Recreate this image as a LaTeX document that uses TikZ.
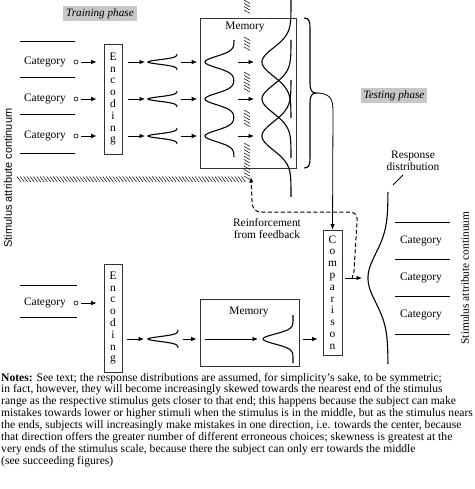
\documentclass[tikz,border=0pt]{standalone}
\usepackage{fontspec}
\setmainfont{Liberation Serif}
\setsansfont{Liberation Sans}
\usetikzlibrary{arrows.meta}
\begin{document}
\begin{tikzpicture}[x=1pt,y=-1pt,
  lbl/.style={font=\fontsize{11.4}{12}\selectfont, inner sep=0pt},
  vbox/.style={draw=black!80, line width=0.7pt, align=center, minimum width=18pt, inner sep=0pt, font=\fontsize{11.4}{11.8}\selectfont},
  membox/.style={draw=black!80, line width=0.7pt, inner sep=0pt},
  arr/.style={-{Latex[length=5.5pt,width=4.5pt]}, line width=0.8pt},
  crv/.style={line width=1.1pt},
  sep/.style={line width=0.8pt},
  phase/.style={fill=black!22, font=\fontsize{11.2}{12}\selectfont\itshape, inner xsep=3pt, minimum height=15pt, inner ysep=0pt},
  hatch/.style={line width=0.5pt},
  note/.style={anchor=base west, inner sep=0pt, font=\fontsize{11.6}{12}\selectfont},
  dot/.style={circle, draw, line width=0.6pt, minimum size=4pt, inner sep=0pt},
  fb/.style={dashed, dash pattern=on 4pt off 2.5pt, line width=1pt}
]
\useasboundingbox (0,0) rectangle (474,489);

% ---------- phase labels ----------
\node[phase] (train) at (100,14) {Training phase};
\node[phase] (test) at (394,96) {Testing phase};

% ---------- training: left categories ----------
\foreach \yy in {41,77,114,153} \draw[sep] (20,\yy) -- (75,\yy);
\node[vbox, minimum height=110pt] (enc1) at (113,99) {E\\n\\c\\o\\d\\i\\n\\g};
\node[membox, minimum width=96pt, minimum height=150pt] (mem1) at (248.5,93) {};
\node[lbl] (memlbl1) at (245,27) {Memory};

\foreach \c in {62,99,136} {
  \node[lbl] (cat\c) at (45,\c) {Category};
  \node[dot] (dot\c) at (76,\c) {};
  \draw[arr, shorten <=3pt, shorten >=7pt] (dot\c) -- (enc1.west |- dot\c);
  \coordinate (s\c) at (148,\c);
  \coordinate (sr\c) at (177,\c);
  \draw[arr, shorten <=6pt, shorten >=3pt] (enc1.east |- s\c) -- (s\c);
  \draw[crv] plot[domain=-8:8, samples=41, variable=\t] ({177-29*exp(0-(\t/3.2)*(\t/3.2))}, {\c+\t});
  \draw[arr, shorten <=4pt, shorten >=3pt] (sr\c) -- (mem1.west |- sr\c);
  \coordinate (ma\c) at (238,\c);
  \coordinate (mb\c) at (254,\c);
  \draw[arr] (ma\c) -- (mb\c);
}

% memory trace (three peaks)
\draw[crv] plot[domain=40:157, samples=200, variable=\t]
  ({234-29*(exp(0-((\t-62)/8)*((\t-62)/8))+exp(0-((\t-99)/8)*((\t-99)/8))+exp(0-((\t-136)/8)*((\t-136)/8)))}, {\t});

% response distributions in memory
\draw[crv] plot[domain=0:118, samples=120, variable=\t] ({291-29*exp(0-((\t-62)/20)*((\t-62)/20))}, {\t});
\draw[crv] plot[domain=40:158, samples=120, variable=\t] ({291-29*exp(0-((\t-99)/20)*((\t-99)/20))}, {\t});
\draw[crv] plot[domain=80:197, samples=120, variable=\t] ({291-29*exp(0-((\t-136)/20)*((\t-136)/20))}, {\t});

% hatched barrier
\foreach \yy in {0,3.3,...,10} \draw[hatch] (244,\yy) -- (250,\yy+3.5);
\foreach \yy in {37,40.3,...,50} \draw[hatch] (244,\yy) -- (250,\yy+3.5);
\foreach \yy in {72,75.3,...,89} \draw[hatch] (244,\yy) -- (250,\yy+3.5);
\foreach \yy in {110,113.3,...,125} \draw[hatch] (244,\yy) -- (250,\yy+3.5);
\foreach \yy in {143,146.3,...,177} \draw[hatch] (244,\yy) -- (250,\yy+3.5);
\foreach \xx in {17,20.3,...,242} \draw[hatch] (\xx,176.5) -- (\xx+4,182);

% left axis label
\node[font=\fontsize{11}{12}\selectfont\sffamily, rotate=90, inner sep=0pt] (axL) at (8,178) {Stimulus attribute continuum};

% brace
\coordinate (cusp) at (316,93);
\draw[crv] (304,18) .. controls (309,18) and (310,21) .. (310,28) -- (310,84)
  .. controls (310,90) and (312,93) .. (cusp)
  .. controls (312,93) and (310,96) .. (310,102) -- (310,158)
  .. controls (310,165) and (309,168) .. (304,168);

% ---------- testing ----------
\draw[sep] (20,285) -- (77,285);
\draw[sep] (20,317) -- (77,317);
\node[lbl] (cat4) at (45,303) {Category};
\node[dot] (dot4) at (76,303) {};
\node[vbox, minimum height=108pt] (enc2) at (113,318) {E\\n\\c\\o\\d\\i\\n\\g};
\draw[arr, shorten <=3pt, shorten >=7pt] (dot4) -- (enc2.west |- dot4);

\coordinate (s4) at (148,339);
\coordinate (sr4) at (178,339);
\draw[arr, shorten <=5pt, shorten >=4pt] (enc2.east |- s4) -- (s4);
\draw[crv] plot[domain=-9:9, samples=41, variable=\t] ({178-30*exp(0-(\t/3.4)*(\t/3.4))}, {339+\t});

\node[membox, minimum width=99pt, minimum height=67pt] (mem2) at (249.5,332.5) {};
\node[lbl] (memlbl2) at (249,312) {Memory};
\draw[arr, shorten <=5pt, shorten >=3pt] (sr4) -- (mem2.west |- sr4);
\coordinate (mc1) at (205,339);
\coordinate (mc2) at (258,339);
\draw[arr] (mc1) -- (mc2);
\draw[crv] plot[domain=-24:24, samples=61, variable=\t] ({293-30*exp(0-(\t/7)*(\t/7))}, {339+\t});

\node[vbox, minimum height=125pt, minimum width=19pt] (comp) at (332.5,292.5) {C\\o\\m\\p\\a\\r\\i\\s\\o\\n};
\draw[arr, shorten <=4pt, shorten >=5pt] (mem2.east |- mc2) -- (comp.west |- mc2);

% brace to comparison
\coordinate (bend) at (333,110);
\draw[arr] (cusp) .. controls (329,93) and (333,98) .. (bend) -- (comp.north);

% response
\coordinate (rpeak) at (368,278);
\draw[arr, shorten <=3pt, shorten >=6pt] (comp.east |- rpeak) -- (rpeak);
\draw[crv] plot[domain=192:364, samples=150, variable=\t] ({388-20*exp(0-((\t-278)/35)*((\t-278)/35))}, {\t});
\node[lbl, align=center] (resp) at (413,161) {Response\\distribution};
\draw[line width=0.8pt] (393,185) -- (403,175);

% feedback loop
\coordinate (fbs) at (352,279);
\coordinate (fbt) at (251,177);
\draw[fb, -{Latex[length=5.5pt,width=4.5pt]}] (fbs) -- (354,271) -- (357,222)
  .. controls (357.5,214) and (355,212) .. (348,212) -- (262,212)
  .. controls (254,212) and (252,208) .. (252,200) -- (fbt);
\node[lbl, align=center] (reinf) at (267,229) {Reinforcement\\from feedback};

% right categories
\foreach \yy in {222,259,296,334} \draw[sep] (395,\yy) -- (450,\yy);
\node[lbl] (cat5) at (421,241) {Category};
\node[lbl] (cat6) at (421,278) {Category};
\node[lbl] (cat7) at (421,315) {Category};
\node[font=\fontsize{11.4}{12}\selectfont, rotate=90, inner sep=0pt] (axR) at (465,278) {Stimulus attribute continuum};

% ---------- notes ----------
\node[note] (n1) at (1,381) {\textbf{Notes:} See text; the response distributions are assumed, for simplicity's sake, to be symmetric;};
\node[note] (n2) at (1,392.9) {in fact, however, they will become increasingly skewed towards the nearest end of the stimulus};
\node[note] (n3) at (1,404.8) {range as the respective stimulus gets closer to that end; this happens because the subject can make};
\node[note] (n4) at (1,416.7) {mistakes towards lower or higher stimuli when the stimulus is in the middle, but as the stimulus nears};
\node[note] (n5) at (1,428.6) {the ends, subjects will increasingly make mistakes in one direction, i.e. towards the center, because};
\node[note] (n6) at (1,440.5) {that direction offers the greater number of different erroneous choices; skewness is greatest at the};
\node[note] (n7) at (1,452.4) {very ends of the stimulus scale, because there the subject can only err towards the middle};
\node[note] (n8) at (1,464.3) {(see succeeding figures)};
\end{tikzpicture}
\end{document}
